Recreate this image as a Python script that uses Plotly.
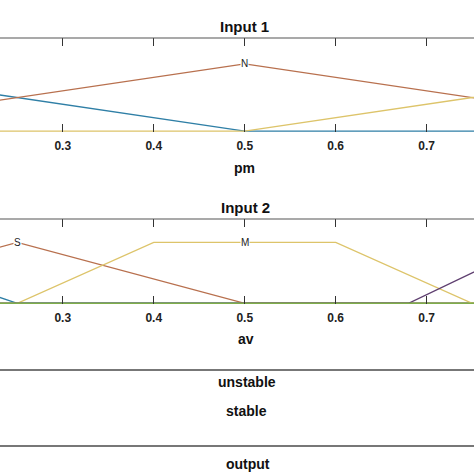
import plotly.graph_objects as go

# membership functions (x: input value, y: degree)
IN1_X = [[0.0, 0.5, 1.0], [0.0, 0.5, 1.0], [0.0, 0.5, 1.0]]
IN1_Y = [[1, 0, 0], [0, 1, 0], [0, 0, 1]]
IN1_LABELS = [None, "N", None]
IN1_PEAKS = [0.0, 0.5, 1.0]

IN2_X = [
    [0.05, 0.25, 1.0],
    [0.0, 0.25, 0.5, 1.0],
    [0.0, 0.25, 0.4, 0.6, 0.75, 1.0],
    [0.0, 0.68, 0.82, 1.0],
    [0.0, 1.0],
]
IN2_Y = [
    [1, 0, 0],
    [0, 1, 0, 0],
    [0, 0, 1, 1, 0, 0],
    [0, 0, 1, 0],
    [0, 0],
]
IN2_LABELS = [None, "S", "M", None, None]
IN2_PEAKS = [0.05, 0.25, 0.5, 0.82, 1.0]

TICKS = [0.2, 0.3, 0.4, 0.5, 0.6, 0.7, 0.8]
OUTPUT_LABELS = ["unstable", "stable"]

COLORS = ["#2f7fa6", "#b8704e", "#ddc46a", "#5f3f70", "#7fae4a"]
FONT = "Liberation Sans, Arial, sans-serif"
H = 474


def py(pix):
    # pixel row -> paper y
    return 1 - pix / H


fig = go.Figure()

for i, (xs, ys) in enumerate(zip(IN1_X, IN1_Y)):
    fig.add_trace(go.Scatter(x=xs, y=ys, mode="lines", xaxis="x", yaxis="y",
                             line=dict(color=COLORS[i], width=1.3),
                             showlegend=False, hoverinfo="skip"))
for i, (xs, ys) in enumerate(zip(IN2_X, IN2_Y)):
    fig.add_trace(go.Scatter(x=xs, y=ys, mode="lines", xaxis="x2", yaxis="y2",
                             line=dict(color=COLORS[i], width=1.3),
                             showlegend=False, hoverinfo="skip"))

annotations = []
for lab, pk in zip(IN1_LABELS, IN1_PEAKS):
    if lab:
        annotations.append(dict(x=pk, y=1, xref="x", yref="y", text=lab,
                                showarrow=False, bgcolor="white", borderpad=0,
                                font=dict(size=10, color="#222", family=FONT)))
for lab, pk in zip(IN2_LABELS, IN2_PEAKS):
    if lab:
        annotations.append(dict(x=pk, y=1, xref="x2", yref="y2", text=lab,
                                showarrow=False, bgcolor="white", borderpad=0,
                                font=dict(size=10, color="#222", family=FONT)))

# (text, centre x px, centre y px, size)
texts = [
    ("<b>Input 1</b>", 244, 27, 15),
    ("<b>pm</b>", 244, 168, 14),
    ("<b>Input 2</b>", 245, 207, 15),
    ("<b>av</b>", 246, 339, 14),
    ("<b>" + OUTPUT_LABELS[0] + "</b>", 247, 382, 14),
    ("<b>" + OUTPUT_LABELS[1] + "</b>", 247, 411, 14),
    ("<b>output</b>", 248, 464, 14),
]
for t, col, row, size in texts:
    annotations.append(dict(x=col / 474, y=py(row), xref="paper", yref="paper",
                            text=t, showarrow=False, xanchor="center",
                            yanchor="middle",
                            font=dict(size=size, color="#111", family=FONT)))

xax = dict(range=[0.231, 0.752], tickvals=TICKS,
           ticktext=[f"<b>{v:.1f}</b>" for v in TICKS],
           ticks="inside", ticklen=8, tickcolor="#333", mirror="ticks",
           showline=False, showgrid=False, zeroline=False,
           ticklabelstandoff=5,
           tickfont=dict(size=12, color="#222", family=FONT))
yax = dict(range=[-0.012, 1.385], showticklabels=False, ticks="",
           showgrid=False, zeroline=False, showline=False)


def hline(row, color, width):
    return dict(type="line", xref="paper", yref="paper", x0=0, x1=1,
                y0=py(row), y1=py(row), line=dict(color=color, width=width))


fig.update_layout(
    width=474, height=474,
    margin=dict(l=0, r=0, t=0, b=0),
    paper_bgcolor="white", plot_bgcolor="white",
    xaxis=dict(xax, domain=[0, 1], anchor="y"),
    yaxis=dict(yax, domain=[py(132), py(38)], anchor="x"),
    xaxis2=dict(xax, domain=[0, 1], anchor="y2"),
    yaxis2=dict(yax, domain=[py(304), py(219)], anchor="x2"),
    annotations=annotations,
    shapes=[
        hline(38, "#555", 1.2),
        hline(219, "#555", 1.2),
        hline(370, "#777", 2),
        hline(446, "#777", 2),
    ],
)

fig.write_html(
    "out.html",
    config={"displayModeBar": False},
    post_script="document.body.style.margin='0';document.body.style.overflow='hidden';",
)
